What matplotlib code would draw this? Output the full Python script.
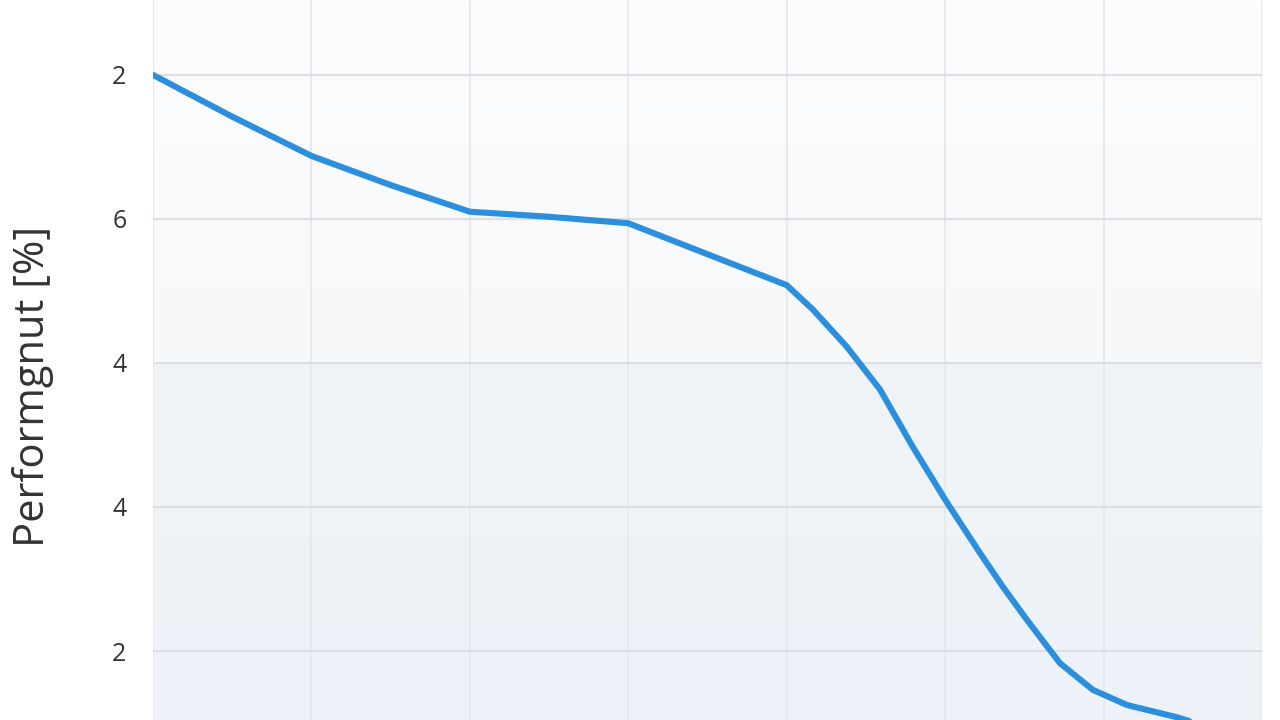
import numpy as np
import matplotlib
matplotlib.use("Agg")
import matplotlib.pyplot as plt
from matplotlib.colors import LinearSegmentedColormap

# ---- data ----
x_vals = [0.0, 0.5, 1.0, 1.5, 2.0, 2.5, 3.0, 3.5, 4.0, 4.166, 4.381,
          4.589, 4.797, 5.012, 5.22, 5.365, 5.517, 5.725, 5.933, 6.148,
          6.463, 7.0]
y_vals = [10.0, 9.42, 8.875, 8.47, 8.10, 8.03, 7.94, 7.51, 7.08, 6.74,
          6.22, 5.63, 4.83, 4.06, 3.36, 2.89, 2.43, 1.83, 1.46, 1.25,
          1.08, 0.72]
y_ticks = [10, 8, 6, 4, 2]
y_tick_labels = ["2", "6", "4", "4", "2"]
x_ticks = [0, 1, 2, 3, 4, 5, 6, 7]
y_label = "Performgnut [%]"

plt.rcParams['font.family'] = ['Open Sans', 'DejaVu Sans']

fig = plt.figure(figsize=(12.8, 7.2), dpi=100)
fig.patch.set_facecolor("white")
ax = fig.add_axes([153 / 1280, 0, 1109 / 1280, 1])

ymin, ymax = 1.042, 11.04
ax.set_xlim(0, 7)
ax.set_ylim(ymin, ymax)

# background gradient
cmap = LinearSegmentedColormap.from_list(
    "bg", [(0.0, "#fdfdfe"), (0.503, "#f6f8fa"), (0.505, "#f0f4f8"), (1.0, "#ecf2f7")])
grad = np.linspace(0, 1, 720).reshape(-1, 1)
ax.imshow(grad, aspect="auto", cmap=cmap, extent=(0, 7, ymin, ymax),
          origin="upper", zorder=0, interpolation="nearest")

# grid
for xv in x_ticks:
    ax.axvline(xv, color="#e6e8ec", lw=1.3, zorder=1)
for yv in y_ticks:
    ax.axhline(yv, color="#dcdfe3", lw=1.5, zorder=1)

ax.plot(x_vals, y_vals, color="#2b8fdd", lw=4.4, solid_capstyle="round",
        solid_joinstyle="round", zorder=3)

for s in ax.spines.values():
    s.set_visible(False)
ax.set_xticks([])
ax.set_yticks(y_ticks)
ax.set_yticklabels(y_tick_labels)
ax.tick_params(axis="y", length=0, pad=19, labelsize=18, labelcolor="#333333")
ax.set_ylabel(y_label, fontsize=30, color="#333333")
ax.yaxis.set_label_coords((54 - 153) / 1109, 1 - 386 / 720)

fig.savefig("out.png", dpi=100, facecolor="white")
